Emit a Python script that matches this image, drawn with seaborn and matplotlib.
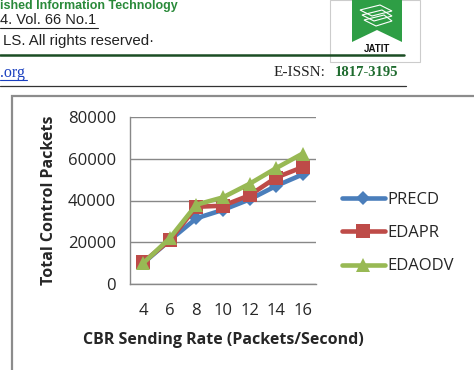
import matplotlib
matplotlib.use("Agg")
import matplotlib.pyplot as plt
import seaborn as sns
import pandas as pd
from matplotlib.lines import Line2D
from matplotlib.patches import Rectangle, Polygon

rates = [4, 6, 8, 10, 12, 14, 16]
precd = [10000, 21000, 31500, 35500, 40500, 47000, 52500]
edapr = [10500, 21000, 37000, 37500, 42500, 51000, 56000]
edaodv = [10000, 22000, 38000, 41500, 48000, 55500, 62500]
series_names = ["PRECD", "EDAPR", "EDAODV"]
yticks = [0, 20000, 40000, 60000, 80000]

colors = {"PRECD": "#4A7EBB", "EDAPR": "#BE4B48", "EDAODV": "#98B954"}
markers = {"PRECD": "D", "EDAPR": "s", "EDAODV": "^"}
msizes = {"PRECD": 7.5, "EDAPR": 9.5, "EDAODV": 10.5}

sns.set_style("white")
plt.rcParams['font.family'] = ['Open Sans', 'DejaVu Sans']

W, H = 474, 370
fig = plt.figure(figsize=(W / 100, H / 100), dpi=100)

def fx(x):
    return x / W

def fy(y):
    return 1 - y / H

# ---- page header ----
green = "#1E6B2E"
fig.text(fx(0), fy(0.5), "ished Information Technology", color="#2A8A3A",
         fontsize=9, fontweight="bold", family="Liberation Sans", va="top", ha="left")
fig.text(fx(0), fy(20.5), "4. Vol. 66 No.1", color="#222222", fontsize=10.5,
         family="Liberation Sans", va="center", ha="left")
fig.add_artist(Line2D([fx(0), fx(98)], [fy(27.5), fy(27.5)], color="#222222", lw=0.8))
fig.text(fx(3), fy(41), "LS. All rights reserved·", color="#222222", fontsize=10.8,
         family="Liberation Sans", va="center", ha="left")

# logo
fig.add_artist(Rectangle((fx(330), fy(62)), fx(90), 62 / H, facecolor="white",
                         edgecolor="#CCCCCC", lw=0.8, zorder=0))
fig.add_artist(Polygon([(fx(352), fy(0)), (fx(402), fy(0)), (fx(402), fy(42)),
                        (fx(377), fy(30)), (fx(352), fy(42))], closed=True,
                       facecolor="#2E9E45", edgecolor="none"))
for k in range(3):
    fig.add_artist(Polygon([(fx(360 + 2 * k), fy(10 + 5 * k)), (fx(380 + 2 * k), fy(5 + 5 * k)),
                            (fx(392), fy(11 + 5 * k)), (fx(372 + 2 * k), fy(16 + 5 * k))],
                           closed=True, facecolor="none", edgecolor="white", lw=0.8))
fig.text(fx(377), fy(49), "JATIT", color="#111111", fontsize=7, fontweight="bold",
         family="Liberation Sans", ha="center", va="center")
fig.add_artist(Line2D([fx(0), fx(404)], [fy(55), fy(55)], color="#1B4D24", lw=1.8))

fig.text(fx(0), fy(73), ".org", color="#1A3FBF", fontsize=11.5, family="Liberation Serif",
         va="center", ha="left")
fig.add_artist(Line2D([fx(0), fx(27)], [fy(80), fy(80)], color="#1A3FBF", lw=0.8))
fig.text(fx(274), fy(73), "E-ISSN:", color="#222222", fontsize=11, family="Liberation Serif",
         va="center", ha="left")
fig.text(fx(335), fy(73), "1817-3195", color=green, fontsize=10.5, fontweight="bold",
         family="Liberation Serif", va="center", ha="left")
fig.add_artist(Line2D([fx(0), fx(406)], [fy(86), fy(86)], color="#333333", lw=0.9))

# chart box border
fig.add_artist(Rectangle((fx(12), fy(380)), fx(470), (380 - 96) / H, facecolor="none",
                         edgecolor="#8C8C8C", lw=1.6))

# ---- chart ----
ax = fig.add_axes([fx(130), fy(284), fx(316 - 130), (284 - 117) / H])
df = pd.DataFrame({
    "pos": list(range(len(rates))) * 3,
    "value": precd + edapr + edaodv,
    "series": [s for s in series_names for _ in rates],
})
for name in series_names:
    sub = df[df["series"] == name]
    sns.lineplot(data=sub, x="pos", y="value", ax=ax, color=colors[name], lw=3.3,
                 marker=markers[name], markersize=msizes[name], markeredgewidth=0,
                 legend=False, sort=False)

ax.set_xlim(-0.5, len(rates) - 0.5)
ax.set_ylim(0, 80000)
ax.set_yticks(yticks)
ax.set_yticklabels([str(v) for v in yticks], fontsize=12)
ax.set_xticks(range(len(rates)))
ax.set_xticklabels([str(r) for r in rates], fontsize=12)
ax.set_xticks([i - 0.5 for i in range(len(rates) + 1)], minor=True)
ax.tick_params(axis="x", which="major", length=0, pad=14)
ax.tick_params(axis="x", which="minor", length=5, width=1, color="#888888", direction="out")
ax.tick_params(axis="y", length=5, width=1, color="#888888", direction="out", pad=5)
ax.grid(axis="y", color="#888888", lw=1)
ax.set_axisbelow(True)
for s in ["top", "right"]:
    ax.spines[s].set_visible(False)
for s in ["left", "bottom"]:
    ax.spines[s].set_color("#888888")
    ax.spines[s].set_linewidth(1)
ax.set_xlabel("CBR Sending Rate (Packets/Second)", fontsize=11.5, fontweight="bold", labelpad=9)
ax.set_ylabel("Total Control Packets", fontsize=11.5, fontweight="bold", labelpad=8)

handles = [Line2D([], [], color=colors[n], lw=3.3, marker=markers[n], markersize=msizes[n],
                  markeredgewidth=0) for n in series_names]
fig.legend(handles, series_names, loc="center left", bbox_to_anchor=(fx(335), fy(233)),
           frameon=False, fontsize=12, handlelength=2.6, handletextpad=0.15,
           labelspacing=1.05, borderaxespad=0)

fig.savefig("out.png", dpi=100)
